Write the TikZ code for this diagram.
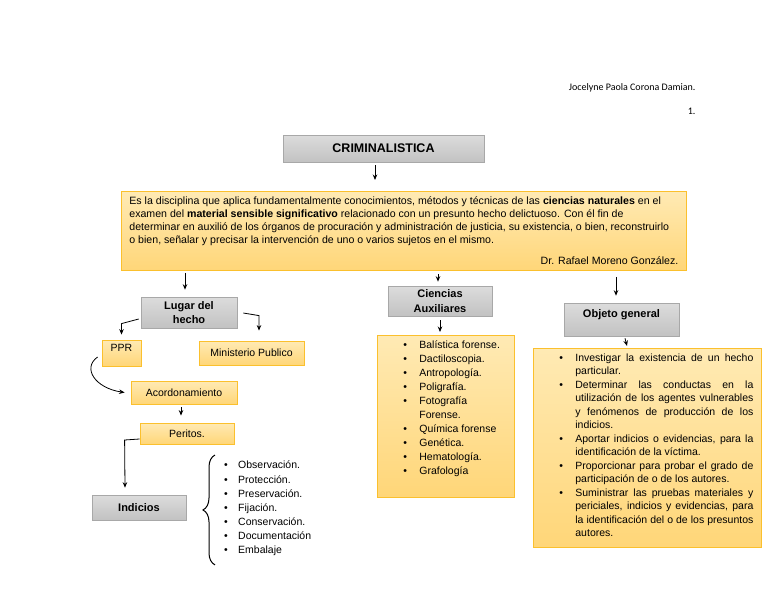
\documentclass[tikz,border=0pt]{standalone}
\usepackage{fontspec}
\setmainfont{Liberation Sans}
\newfontfamily\carlito{Carlito}
\usetikzlibrary{positioning, calc, arrows.meta, decorations.pathreplacing}

\definecolor{boxgrayA}{HTML}{DCDCDC}
\definecolor{boxgrayB}{HTML}{C2C2C2}
\definecolor{boxgrayline}{HTML}{A8A8A8}
\definecolor{boxorA}{HTML}{FFEAB4}
\definecolor{boxorB}{HTML}{FFD678}
\definecolor{boxorline}{HTML}{FBC02D}

% bullet line with hanging indent
\newcommand{\bul}[2][16pt]{\par\noindent\hangindent=#1\hangafter=1\makebox[#1][l]{\textbullet}#2}

\tikzset{
  graybox/.style={draw=boxgrayline, top color=boxgrayA, bottom color=boxgrayB,
    line width=0.6pt, font=\fontsize{11}{14.5}\selectfont\bfseries, align=center, inner sep=0pt},
  orangebox/.style={draw=boxorline, top color=boxorA, bottom color=boxorB,
    line width=0.8pt, inner sep=0pt},
  oneline/.style={text height=7.5pt, text depth=0pt},
  arr/.style={-{Stealth[length=5.5pt,width=4.5pt]}, line width=0.8pt},
}

\begin{document}
\begin{tikzpicture}[x=1pt, y=-1pt, font=\fontsize{10.5}{13.5}\selectfont]

    \useasboundingbox (0,0) rectangle (768,594);

    % --- AUTHOR ---
    \node[anchor=east, font=\carlito\fontsize{10}{12}\selectfont] (autor) at (699,88) {Jocelyne Paola Corona Damian.};
    \node[anchor=east, font=\carlito\fontsize{10}{12}\selectfont] (pagina) at (699,111) {1.};

    % --- TITLE & DEFINITION ---
    \node[graybox, oneline, font=\fontsize{12.5}{15}\selectfont\bfseries, minimum width=201, minimum height=27] (crim) at (383.5,148.5) {CRIMINALISTICA};

    \node[orangebox, anchor=north west, inner xsep=8pt, inner ysep=5.5pt] (def) at (121,191)
      {\begin{minipage}[t][68pt][t]{549pt}\fontsize{10.6}{13}\selectfont
       Es la disciplina que aplica fundamentalmente conocimientos, métodos y técnicas de las \textbf{ciencias naturales} en el\\
       examen del \textbf{material sensible significativo} relacionado con un presunto hecho delictuoso. Con él fin de\\
       determinar en auxilió de los órganos de procuración y administración de justicia, su existencia, o bien, reconstruirlo\\
       o bien, señalar y precisar la intervención de uno o varios sujetos en el mismo.\\[8pt]
       \mbox{}\hfill Dr. Rafael Moreno González.
       \end{minipage}};

    % --- SECOND ROW ---
    \node[graybox, minimum width=96, minimum height=31] (lugar) at (189,312.5) {Lugar del\\hecho};
    \node[graybox, minimum width=104, minimum height=30] (cien) at (440,301) {Ciencias\\Auxiliares};
    \node[graybox, text height=8pt, text depth=13pt, minimum width=115, minimum height=33] (obj) at (621.5,319.5) {Objeto general};

    % --- LEFT BRANCH ---
    \node[orangebox, text height=8pt, text depth=10.5pt, minimum width=39, minimum height=26] (ppr) at (121.5,353) {PPR};
    \node[orangebox, oneline, minimum width=105, minimum height=24] (mp) at (251.5,353) {Ministerio Publico};
    \node[orangebox, oneline, minimum width=106, minimum height=23] (acord) at (184,392.5) {Acordonamiento};
    \node[orangebox, oneline, minimum width=94, minimum height=21] (peritos) at (187,433.5) {Peritos.};
    \node[graybox, oneline, minimum width=94, minimum height=25] (indicios) at (139,507.5) {Indicios};

    \node[anchor=north west, inner sep=0pt] (indlist) at (224,461)
      {\begin{minipage}[t]{110pt}\fontsize{10.5}{14.1}\selectfont
       \bul[14pt]{Observación.}
       \bul[14pt]{Protección.}
       \bul[14pt]{Preservación.}
       \bul[14pt]{Fijación.}
       \bul[14pt]{Conservación.}
       \bul[14pt]{Documentación}
       \bul[14pt]{Embalaje}
       \end{minipage}};

    % --- CENTER LIST ---
    \node[orangebox, anchor=north west, inner xsep=4pt, inner ysep=5pt] (calist) at (377,335)
      {\begin{minipage}[t][152pt][t]{129pt}\fontsize{10.5}{14}\selectfont\leftskip=22pt
       \bul{Balística forense.}
       \bul{Dactiloscopia.}
       \bul{Antropología.}
       \bul{Poligrafía.}
       \bul{Fotografía\\Forense.}
       \bul{Química forense}
       \bul{Genética.}
       \bul{Hematología.}
       \bul{Grafología}
       \end{minipage}};

    % --- RIGHT LIST ---
    \node[orangebox, anchor=north west, inner xsep=4pt, inner ysep=5pt] (oblist) at (533,348)
      {\begin{minipage}[t][189pt][t]{220pt}\fontsize{10.5}{13.5}\selectfont\leftskip=22pt\rightskip=4pt
       \bul{Investigar la existencia de un hecho\linebreak particular.}
       \bul{Determinar las conductas en la\linebreak utilización de los agentes vulnerables\linebreak y fenómenos de producción de los\linebreak indicios.}
       \bul{Aportar indicios o evidencias, para la\linebreak identificación de la víctima.}
       \bul{Proporcionar para probar el grado de\linebreak participación de o de los autores.}
       \bul{Suministrar las pruebas materiales y\linebreak periciales, indicios y evidencias, para\linebreak la identificación del o de los presuntos\linebreak autores.}
       \end{minipage}};

    % --- CONNECTORS ---
    \draw[arr] ($(crim.south)+(-8.5,3)$) -- ($(crim.south |- def.north)+(-8.5,-11)$);
    \draw[arr] ($(def.south -| lugar.north)+(-4,2)$) -- ($(lugar.north)+(-4,-7)$);
    \draw[arr] ($(def.south -| cien.north)+(-2,3)$) -- ($(cien.north)+(-2,-4)$);
    \draw[arr] ($(def.south -| obj.north)+(-5.5,6)$) -- ($(obj.north)+(-5.5,-7)$);

    \draw[arr] ($(lugar.west)+(-2,6.5)$) -- ($(ppr.north)+(0,-16)$) -- ($(ppr.north)+(0,-5)$);
    \draw[arr] ($(lugar.east)+(6,0.5)$) -- ($(mp.north)+(7.5,-25)$) -- ($(mp.north)+(7.5,-10)$);
    \draw[arr] ($(ppr.west)+(-4,4)$) .. controls (82,368) and (95,388) .. ($(acord.west)+(-6,0)$);
    \draw[arr] ($(acord.south)+(-3,3)$) -- ($(peritos.north)+(-6,-7)$);
    \draw[arr] ($(peritos.west)+(0,5.5)$) -- ($(peritos.west)+(-15,6.5)$) -- ($(indicios.north)+(-14,-7)$);

    \draw[arr] ($(cien.south)+(0,4)$) -- ($(cien.south |- calist.north)+(0,-3)$);
    \draw[arr] ($(obj.south)+(3.5,2)$) -- ($(oblist.north west)+(94,-2)$);

    % --- BRACE ---
    \draw[line width=1pt, decorate, decoration={brace, amplitude=12pt}]
      ($(indlist.south west)+(-9,9)$) -- ($(indlist.north west)+(-9,-6)$);

\end{tikzpicture}
\end{document}
